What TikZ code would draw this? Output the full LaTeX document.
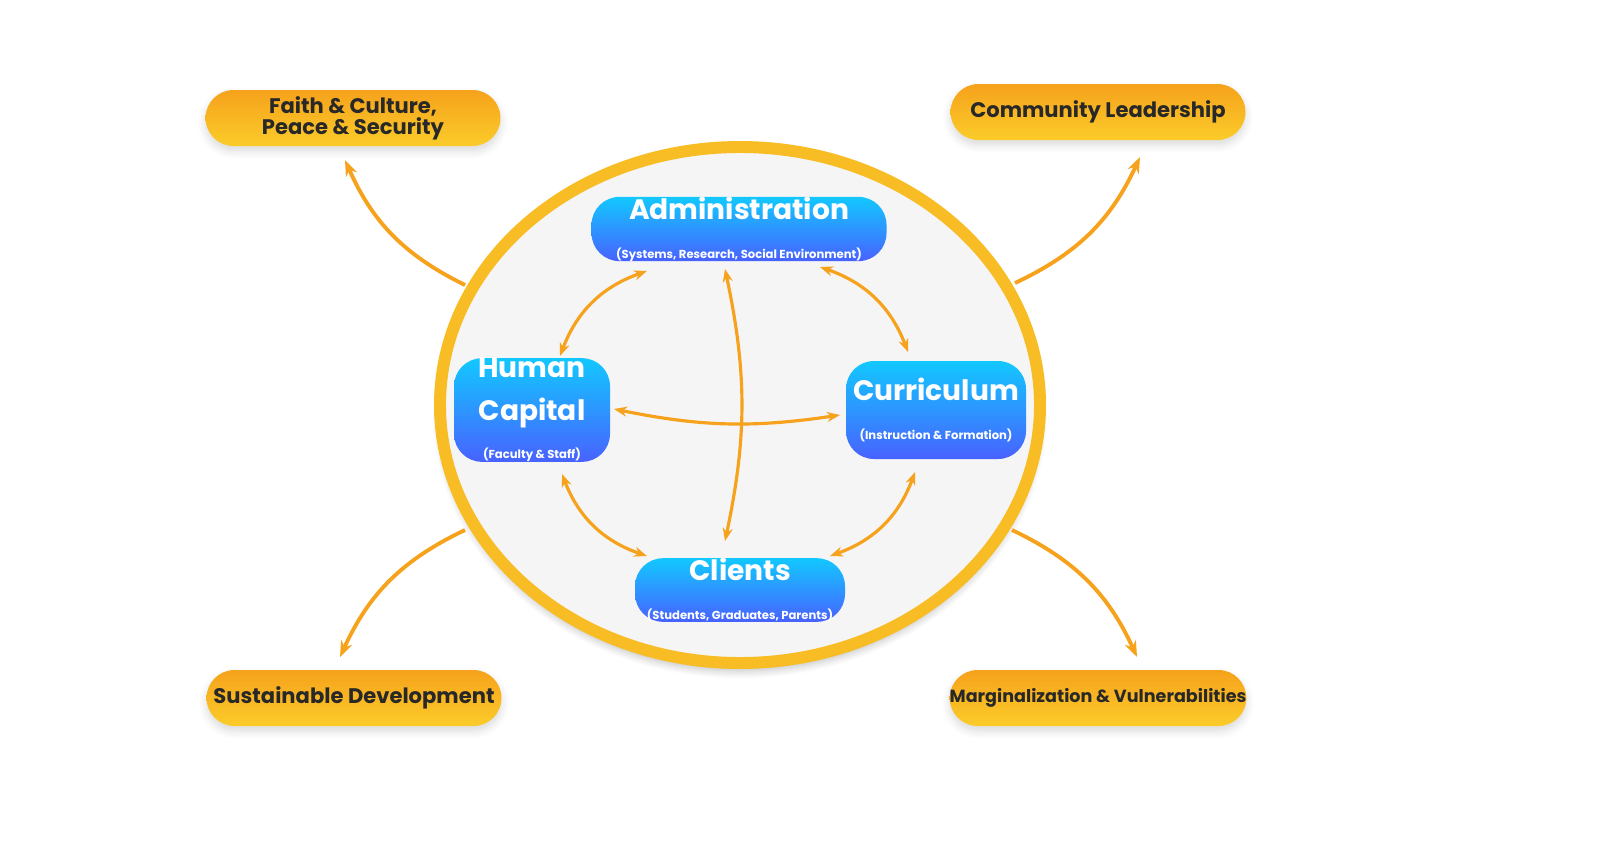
\documentclass[tikz,border=0pt]{standalone}
\usepackage{fontspec}
\setmainfont{Poppins}
\usetikzlibrary{positioning,arrows.meta,shadows.blur}
\definecolor{blueTop}{RGB}{18,200,255}
\definecolor{blueBot}{RGB}{72,98,255}
\definecolor{orTop}{RGB}{246,162,28}
\definecolor{orBot}{RGB}{251,204,42}
\definecolor{ring}{RGB}{248,188,36}
\definecolor{txt}{RGB}{40,40,40}
\newcommand{\bigtxt}{\fontsize{8}{7.5}\selectfont}
\newcommand{\smalltxt}{\fontsize{3.3}{3.6}\selectfont}
\tikzset{
  hub/.style={rounded corners=0.28cm, top color=blueTop, bottom color=blueBot,
    text=white, font=\bfseries, align=center, inner sep=0pt},
  goal/.style={rounded corners=0.28cm, top color=orTop, bottom color=orBot,
    text=txt, font=\bfseries\fontsize{6}{6}\selectfont, align=center,
    minimum width=2.95cm, minimum height=0.56cm, inner sep=0pt,
    blur shadow={shadow blur steps=6,shadow xshift=0pt,shadow yshift=-0.05cm,shadow opacity=15}},
  link/.style={draw=orTop, line width=0.9pt, {Stealth[length=0.13cm,width=0.1cm]}-{Stealth[length=0.13cm,width=0.1cm]}},
  spoke/.style={draw=orTop, line width=1.1pt, -{Stealth[length=0.16cm,width=0.12cm]}}
}
\begin{document}
\begin{tikzpicture}
\useasboundingbox (0,0) rectangle (16,8.59);
% ring
\fill[white!96!black, blur shadow={shadow blur steps=8,shadow xshift=0pt,shadow yshift=-0.08cm,shadow opacity=25}] (7.40,4.54) ellipse (3.0cm and 2.58cm);
\draw[ring, line width=3.4pt] (7.40,4.54) ellipse (3.0cm and 2.58cm);
\coordinate (ul) at (4.65,5.74);
\coordinate (ur) at (10.15,5.76);
\coordinate (ll) at (4.65,3.29);
\coordinate (lr) at (10.12,3.29);

% hubs
\node[hub, minimum width=2.95cm, minimum height=0.56cm] (admin) at (7.39,6.30)
  {\bigtxt Administration\\[-1pt]\smalltxt (Systems, Research, Social Environment)};
\node[hub, minimum width=1.56cm, minimum height=0.98cm] (human) at (5.32,4.49)
  {\bigtxt Human\\\bigtxt Capital\\[-1pt]\smalltxt (Faculty \& Staff)};
\node[hub, minimum width=1.80cm, minimum height=0.98cm] (curr) at (9.36,4.49)
  {\bigtxt Curriculum\\[-1pt]\smalltxt (Instruction \& Formation)};
\node[hub, minimum width=2.10cm, minimum height=0.56cm] (clients) at (7.40,2.69)
  {\bigtxt Clients\\[-1pt]\smalltxt (Students, Graduates, Parents)};

% goals
\node[goal] (faith) at (3.53,7.41) {Faith \& Culture,\\Peace \& Security};
\node[goal] (comm) at (10.98,7.47) {Community Leadership};
\node[goal] (sust) at (3.54,1.61) {Sustainable Development};
\node[goal, font=\bfseries\fontsize{5}{5}\selectfont] (marg) at (10.98,1.61) {Marginalization \& Vulnerabilities};

% links inside
\path[link] (6.47,5.88) to[bend right=25] (5.60,5.03);
\path[link] (8.20,5.92) to[bend left=25] (9.08,5.07);
\path[link] (5.62,3.85) to[bend right=25] (6.47,3.03);
\path[link] (9.15,3.87) to[bend left=25] (8.30,3.03);
\path[link] (7.25,5.90) to[bend left=12] (7.25,3.18);
\path[link] (6.14,4.50) to[bend right=10] (8.40,4.44);

% outward
\path[spoke] (ul) to[bend left=20] (3.45,6.99);
\path[spoke] (ur) to[bend right=20] (11.40,7.02);
\path[spoke] (ll) to[bend right=20] (3.40,2.02);
\path[spoke] (lr) to[bend left=20] (11.37,2.02);
\end{tikzpicture}
\end{document}
